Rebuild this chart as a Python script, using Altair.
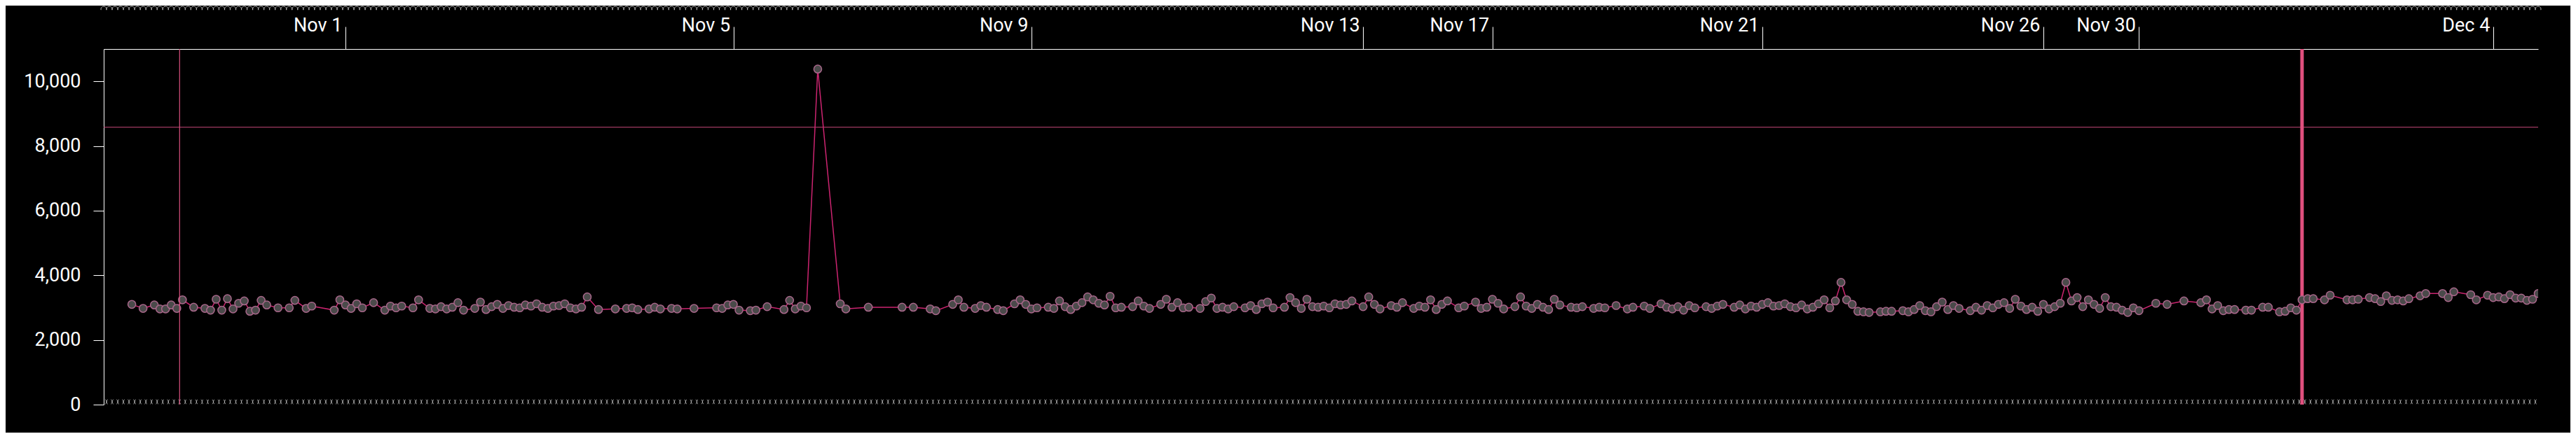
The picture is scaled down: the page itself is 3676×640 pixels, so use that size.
import altair as alt
import pandas as pd

# ---------------- data ----------------
N_SLOTS = 434
tick_slots = [43, 112, 165, 224, 247, 295, 345, 362, 425]
tick_labels = ["Nov 1", "Nov 5", "Nov 9", "Nov 13", "Nov 17", "Nov 21", "Nov 26", "Nov 30", "Dec 4"]
y_ticks = [0, 2000, 4000, 6000, 8000, 10000]
y_max = 11000
threshold = [8580]
marker_slot = [13.5]
current_slot = [391]

_ = None
values = [
    _, _, _, _, _, 3100, _, 2976, _, 3082,
    2959, 2959, 3082, 2976, 3241, _, 3011, _, 2976, 2922,
    3259, 2922, 3277, 2959, 3135, 3206, 2887, 2922, 3224, 3082,
    _, 2994, _, 2994, 3224, _, 2976, 3047, _, _,
    _, 2922, 3241, 3082, 2976, 3118, 2994, _, 3153, _,
    2922, 3047, 2994, 3047, _, 2994, 3241, _, 2976, 2959,
    3029, 2959, 3011, 3153, 2922, _, 2976, 3171, 2941, 3029,
    3100, 2976, 3064, 3011, 2994, 3082, 3047, 3118, 3011, 2976,
    3047, 3064, 3118, 2994, 2959, 3011, 3330, _, 2941, _,
    _, 2959, _, 2976, 2994, 2941, _, 2959, 3011, 2959,
    _, 2976, 2959, _, _, 2976, _, _, _, 2994,
    2976, 3082, 3100, 2922, _, 2905, 2922, _, 3029, _,
    _, 2941, 3224, 2959, 3047, 2994, _, 10379, _, _,
    _, 3118, 2959, _, _, _, 3011, _, _, _,
    _, _, 3011, _, 3011, _, _, 2959, 2905, _,
    _, 3100, 3241, 3011, _, 2976, 3064, 3011, _, 2941,
    2905, _, 3118, 3241, 3100, 2959, 2994, _, 3011, 2976,
    3206, 3029, 2941, 3047, 3153, 3330, 3241, 3135, 3082, 3350,
    2994, 3011, _, 3029, 3206, 3047, 2976, _, 3100, 3259,
    3011, 3153, 2994, 3011, _, 2976, 3188, 3296, 2976, 3011,
    2959, 3029, _, 2994, 3064, 2941, 3118, 3171, 2994, _,
    3011, 3311, 3153, 2976, 3259, 3029, 3011, 3047, 2994, 3118,
    3082, 3100, 3206, _, 3029, 3330, 3100, 2959, _, 3064,
    3011, 3153, _, 2976, 3047, 3011, 3241, 2941, 3100, 3206,
    _, 2994, 3047, _, 3171, 2976, 3011, 3259, 3135, 2959,
    _, 3029, 3330, 3047, 2976, 3100, 3011, 2941, 3259, 3082,
    _, 3011, 2994, 3029, _, 2976, 3011, 2994, _, 3064,
    _, 2959, 3011, _, 3047, 2976, _, 3118, 3011, 2959,
    3029, 2922, 3064, 2994, _, 3029, 2976, 3047, 3100, _,
    3011, 3082, 2959, 3047, 3011, 3100, 3153, 3047, 3064, 3118,
    3029, 2994, 3082, 2959, 3011, 3118, 3241, 2994, 3206, 3780,
    3241, 3100, 2887, 2870, 2852, _, 2870, 2887, 2887, _,
    2905, 2870, 2941, 3064, 2905, 2870, 3029, 3171, 2941, 3064,
    2976, _, 2905, 3011, 2922, 3064, 2994, 3100, 3153, 2976,
    3259, 3047, 2941, 3011, 2887, 3100, 2959, 3029, 3135, 3780,
    3206, 3311, 3029, 3241, 3100, 2976, 3312, 3029, 3011, 2922,
    2852, 2994, 2905, _, _, 3135, _, 3100, _, _,
    3206, _, _, 3153, 3241, 2959, 3064, 2905, 2941, 2941,
    _, 2922, 2922, _, 3011, 3011, _, 2870, 2887, 2994,
    2922, 3241, 3277, 3277, _, 3241, 3383, _, _, 3241,
    3241, 3259, _, 3312, 3277, 3188, 3365, 3224, 3241, 3206,
    3277, _, 3365, 3436, _, _, 3436, 3312, 3489, _,
    _, 3400, 3241, _, 3383, 3312, 3330, 3277, 3400, 3294,
    3294, 3224, 3259, 3436,
]

slots = [i for i, v in enumerate(values) if v is not None]
reqs = [v for v in values if v is not None]
series = pd.DataFrame({"slot": slots, "value": reqs})
rug = pd.DataFrame({
    "slot": list(range(N_SLOTS)),
    "bottom": [0] * N_SLOTS,
    "top": [y_max] * N_SLOTS,
})

# ---------------- styling ----------------
PINK_LINE = "#cc2470"
PINK_RULE = "#c8487a"
POINT_FILL = "#4a4a4a"
POINT_STROKE = "#a8678a"
FONT = "Roboto"

label_expr = " : ".join(
    f"datum.value == {s} ? '{l}'" for s, l in zip(tick_slots, tick_labels)
) + " : ''"

x_scale = alt.Scale(domain=[0, N_SLOTS - 1], nice=False, zero=False)
y_scale = alt.Scale(domain=[0, y_max], nice=False)

x_axis = alt.Axis(
    orient="top", values=tick_slots, labelExpr=label_expr, title=None,
    grid=False, tickSize=32, tickColor="white", domainColor="white",
    labelColor="white", labelFont=FONT, labelFontSize=27,
    labelAlign="right", labelBaseline="alphabetic", labelPadding=-6,
    labelOffset=-5, labelOverlap=False, labelFlush=False,
)
y_axis = alt.Axis(
    values=y_ticks, labelExpr="format(datum.value, ',')", title=None,
    grid=False, tickSize=15, tickColor="white", domainColor="white",
    labelColor="white", labelFont=FONT, labelFontSize=27, labelPadding=18,
)


def X(field):
    return alt.X(field, scale=x_scale, axis=x_axis)


def Y(field):
    return alt.Y(field, scale=y_scale, axis=y_axis)


# bottom rug arcs at every slot
rug_bottom = alt.Chart(rug).mark_point(
    shape="M-0.6,-0.8 A1,1 0 0 0 -0.6,0.8 M0.6,-0.8 A1,1 0 0 1 0.6,0.8",
    size=64, filled=False, color="#b8b8b8", strokeWidth=1, opacity=1,
    yOffset=-4, clip=True,
).encode(x=X("slot:Q"), y=Y("bottom:Q"))

# top strip arcs
rug_top = alt.Chart(rug).mark_point(
    shape="M-0.954,0.3 A1,1 0 1 1 0.954,0.3",
    size=64, filled=False, color="#b8b8b8", strokeWidth=1, opacity=1,
    yOffset=-57,
).encode(x=X("slot:Q"), y=Y("top:Q"))

h_rule = alt.Chart(pd.DataFrame({"v": threshold})).mark_rule(
    color=PINK_RULE, strokeWidth=1
).encode(y=Y("v:Q"))

thick_rule = alt.Chart(pd.DataFrame({"s": current_slot})).mark_rule(
    color="#e0507e", strokeWidth=5
).encode(x=X("s:Q"))

thin_rule = alt.Chart(pd.DataFrame({"s": marker_slot})).mark_rule(
    color="#d8507e", strokeWidth=1.2
).encode(x=X("s:Q"))

line = alt.Chart(series).mark_line(
    color=PINK_LINE, strokeWidth=1.5, clip=True
).encode(x=X("slot:Q"), y=Y("value:Q"))

points = alt.Chart(series).mark_point(
    shape="circle", size=125, filled=True, fill=POINT_FILL,
    stroke=POINT_STROKE, strokeWidth=1.5, opacity=1, clip=True,
).encode(x=X("slot:Q"), y=Y("value:Q"))

chart = alt.layer(
    rug_bottom, rug_top, h_rule, thick_rule, line, points, thin_rule
).properties(
    width=3474, height=508,
    autosize=alt.AutoSizeParams(type="none"),
    padding={"left": 140, "top": 62, "right": 46, "bottom": 40},
    background="black",
).configure_view(stroke=None)

chart.save("out.html", embed_options={"renderer": "svg", "actions": False})
